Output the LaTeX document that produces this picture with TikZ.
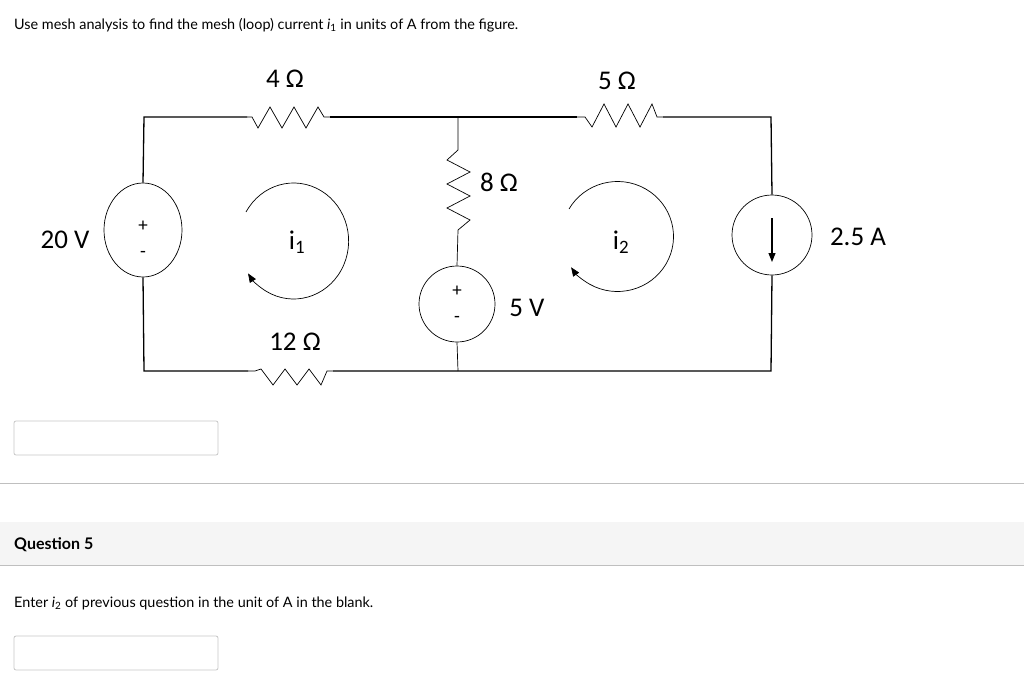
\documentclass[tikz,border=0pt]{standalone}
\usepackage{fontspec}
\setmainfont{Lato}
\newfontfamily\circfont{Carlito}
\usetikzlibrary{arrows.meta,shapes.geometric}
\begin{document}
\begin{tikzpicture}[x=1pt,y=-1pt,
  wire/.style={line width=1.3pt, line join=miter},
  thin/.style={line width=0.7pt},
  lbl/.style={font=\circfont\fontsize{27}{30}\selectfont, inner sep=0pt},
  sm/.style={font=\circfont\fontsize{19}{20}\selectfont, inner sep=0pt},
  txt/.style={font=\fontsize{14.4}{16}\selectfont, anchor=west, inner sep=0pt},
  box/.style={draw=gray!45, line width=0.8pt, rounded corners=2pt}]
\useasboundingbox (0,0) rectangle (1024,690);
% header text
\node[txt] (q) at (14,25) {Use mesh analysis to find the mesh (loop) current \textit{i}\textsubscript{1} in units of A from the figure.};
% nodes/corners
\coordinate (tl) at (144,117); \coordinate (bl) at (144,371);
\coordinate (tm) at (458,117); \coordinate (bm) at (458,371);
\coordinate (tr) at (771,117); \coordinate (br) at (771,371);
% sources
\node[draw, thin, ellipse, minimum width=78pt, minimum height=94pt, inner sep=0pt] (v1) at (143,230) {};
\node[sm] at (143,226) {+}; \node[sm] at (143,254) {-};
\node[draw, thin, circle, minimum size=76pt, inner sep=0pt] (v2) at (457,304) {};
\node[sm] at (457,291) {+}; \node[sm] at (457,319) {-};
\node[draw, thin, circle, minimum size=80pt, inner sep=0pt] (cs) at (772,235) {};
\draw[line width=1.1pt, -{Triangle[length=9pt,width=7pt]}] (772,218) -- (772,262);
% wires
\draw[wire] (v1.north) -- (tl) -- (247,117);
\draw[thin] (247,117) -- (252,117) -- (258,128) -- (270,107) -- (282,128) -- (294,107) -- (306,128) -- (318,107) -- (324,117) -- (330,117);
\draw[wire] (330,117) -- (tm) -- (577,117);
\draw[thin] (577,117) -- (585,117) -- (592,127) -- (604,104) -- (616,127) -- (628,104) -- (640,127) -- (652,104) -- (657,117) -- (663,117);
\draw[wire] (663,117) -- (tr) -- (cs.north);
\draw[wire] (cs.south) -- (br) -- (333,371);
\draw[thin] (333,371) -- (327,371) -- (321,385) -- (309,369) -- (297,385) -- (285,369) -- (273,385) -- (261,369) -- (255,371) -- (248,371);
\draw[wire] (248,371) -- (bl) -- (v1.south);
\draw[thin] (tm) -- (458,150) -- (447,160) -- (470,172) -- (447,184) -- (470,196) -- (447,208) -- (470,220) -- (458,230) -- (v2.north);
\draw[thin] (v2.south) -- (bm);
% mesh arrows
\draw[thin, -{Triangle[length=9pt,width=7pt]}] (246,212) arc[start angle=150, end angle=-146, x radius=55pt, y radius=58pt];
\draw[thin, -{Triangle[length=9pt,width=7pt]}] (569,209) arc[start angle=150, end angle=-146, x radius=56pt, y radius=55pt];
% labels
\node[lbl] (l4) at (285,79) {4 Ω};
\node[lbl] (l5) at (617,81) {5 Ω};
\node[lbl] (l8) at (499,182) {8 Ω};
\node[lbl] (l20) at (65,240) {20 V};
\node[lbl] (l25) at (858,237) {2.5 A};
\node[lbl] (l5v) at (527,308) {5 V};
\node[lbl] (l12) at (295,342) {12 Ω};
\node[lbl] (i1) at (297,242) {i\textsubscript{1}};
\node[lbl] (i2) at (621,242) {i\textsubscript{2}};
% form part
\draw[box] (14,421) rectangle (218,455);
\draw[gray!50, line width=1pt] (0,483) -- (1024,483);
\fill[gray!8] (0,522) rectangle (1024,565);
\draw[gray!50, line width=1pt] (0,565) -- (1024,565);
\node[txt, font=\bfseries\fontsize{16}{18}\selectfont] (q5) at (14,545) {Question 5};
\node[txt] (e) at (14,603) {Enter \textit{i}\textsubscript{2} of previous question in the unit of A in the blank.};
\draw[box] (14,636) rectangle (218,670);
\end{tikzpicture}
\end{document}
